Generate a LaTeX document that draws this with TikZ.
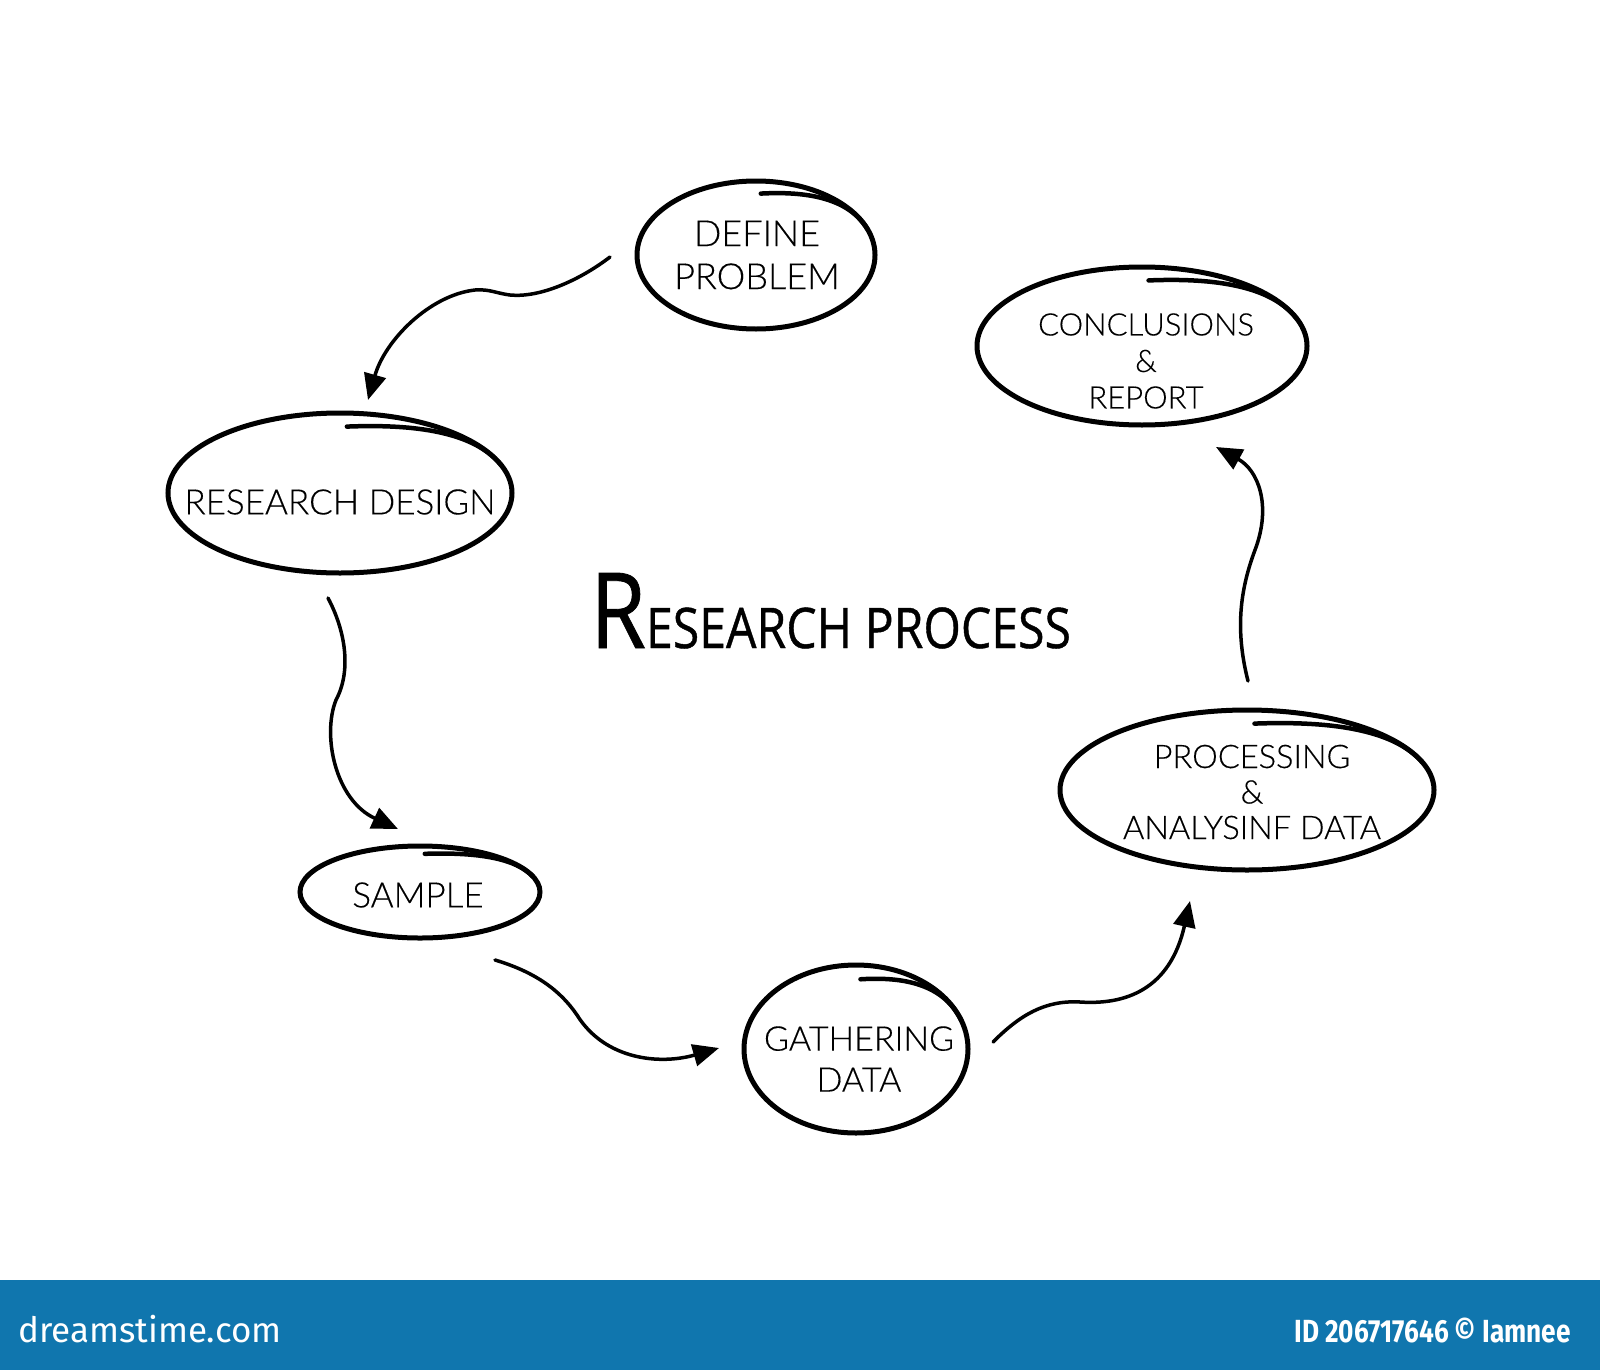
\documentclass[tikz,border=0pt]{standalone}
\usepackage{fontspec}
\IfFontExistsTF{Lato Light}{\setmainfont{Lato Light}[FakeBold=0.3]}{\setmainfont{Lato}}
\newfontfamily\titlefont{Open Sans}[FakeBold=0.8]
\newfontfamily\barfont{Fira Sans}
\usetikzlibrary{shapes.geometric,arrows.meta,calc}
\definecolor{barblue}{RGB}{16,118,174}
\newcommand\fs[2]{\fontsize{#1}{#2}\selectfont}
\tikzset{
  bub/.style={ellipse, draw=black, line width=5pt, inner sep=0pt, outer sep=0pt},
  hand/.style={line width=4.5pt, line cap=round},
  lbl/.style={align=center, inner sep=0pt, text=black},
  flow/.style={line width=3.5pt, line cap=round, -{Triangle[length=26pt,width=22pt]}},
  bartext/.style={inner sep=0pt, text=white},
}
% extra hand-drawn stroke on the upper right of a bubble: name, rx, ry
\newcommand\hstroke[3]{%
  \draw[hand] ($(#1.center)+({0.04*#2},{-0.83*#3})$)
    .. controls ($(#1.center)+({0.5*#2},{-0.87*#3})$) and ($(#1.center)+({0.8*#2},{-0.72*#3})$)
    .. ($(#1.center)+({0.94*#2},{-0.34*#3})$);}
\begin{document}
\begin{tikzpicture}[x=1pt,y=-1pt]
\fill[white] (0,0) rectangle (1600,1370);
\useasboundingbox (0,0) rectangle (1600,1370);

% bubbles
\node[bub, minimum width=238pt, minimum height=148pt] (dp) at (756,255) {};
\node[bub, minimum width=344pt, minimum height=160pt] (rd) at (340,493) {};
\node[bub, minimum width=330pt, minimum height=158pt] (cr) at (1142,346) {};
\node[bub, minimum width=374pt, minimum height=160pt] (pr) at (1247,790) {};
\node[bub, minimum width=240pt, minimum height=92pt] (sa) at (420,892) {};
\node[bub, minimum width=224pt, minimum height=168pt] (gd) at (856,1049) {};

\hstroke{dp}{119}{74}
\hstroke{rd}{172}{80}
\hstroke{cr}{165}{79}
\hstroke{pr}{187}{80}
\hstroke{sa}{120}{46}
\hstroke{gd}{112}{84}

% labels
\node[lbl, font=\fs{36}{43}] (dpt) at (757,255) {DEFINE\\PROBLEM};
\node[lbl, font=\fs{35}{44}] (rdt) at (340,502) {RESEARCH DESIGN};
\node[lbl, font=\fs{31}{36.5}] (crt) at (1146,361) {CONCLUSIONS\\\&\\REPORT};
\node[lbl, font=\fs{32.5}{35.5}] (prt) at (1252,792) {PROCESSING\\\&\\ANALYSINF DATA};
\node[lbl, font=\fs{35}{42}] (sat) at (418,895) {SAMPLE};
\node[lbl, font=\fs{34}{41}] (gdt) at (859,1059) {GATHERING\\DATA};

% title
\node[anchor=base west, inner sep=0pt] (title) at (590,648)
  {\scalebox{0.86}[1]{\titlefont\fs{105}{105}R\fs{56}{56}ESEARCH PROCESS}};

% connectors
\draw[flow] ([shift={(-27,2)}]dp.west)
  .. controls (580,280) and (540,298) .. (510,295)
  .. controls (495,293) and (490,289) .. (475,290)
  .. controls (430,295) and (385,340) .. ([shift={(28,-13)}]rd.north);
\draw[flow] ([shift={(-12,25)}]rd.south)
  .. controls (345,630) and (352,670) .. (336,700)
  .. controls (322,735) and (335,800) .. ([shift={(-22,-17)}]sa.north);
\draw[flow] ([shift={(75,22)}]sa.south)
  .. controls (535,972) and (560,990) .. (577,1015)
  .. controls (605,1060) and (660,1065) .. ([shift={(-25,-1)}]gd.west);
\draw[flow] ([shift={(25,-7)}]gd.east)
  .. controls (1020,1015) and (1045,1000) .. (1080,1002)
  .. controls (1125,1005) and (1170,990) .. ([shift={(-57,31)}]pr.south);
\draw[flow] ([shift={(1,-29)}]pr.north)
  .. controls (1235,630) and (1240,590) .. (1255,550)
  .. controls (1272,505) and (1258,470) .. ([shift={(74,22)}]cr.south);

% bottom bar
\fill[barblue] (0,1280) rectangle (1600,1370);
\node[bartext, anchor=base west, font=\barfont\fs{35}{35}] (logo) at (18,1342) {dreamstime.com};
\node[bartext, anchor=base east, font=\barfont\bfseries\fs{32}{32}] (credit) at (1571,1342)
  {\scalebox{0.82}[1]{ID 206717646 © Iamnee}};
\end{tikzpicture}
\end{document}
